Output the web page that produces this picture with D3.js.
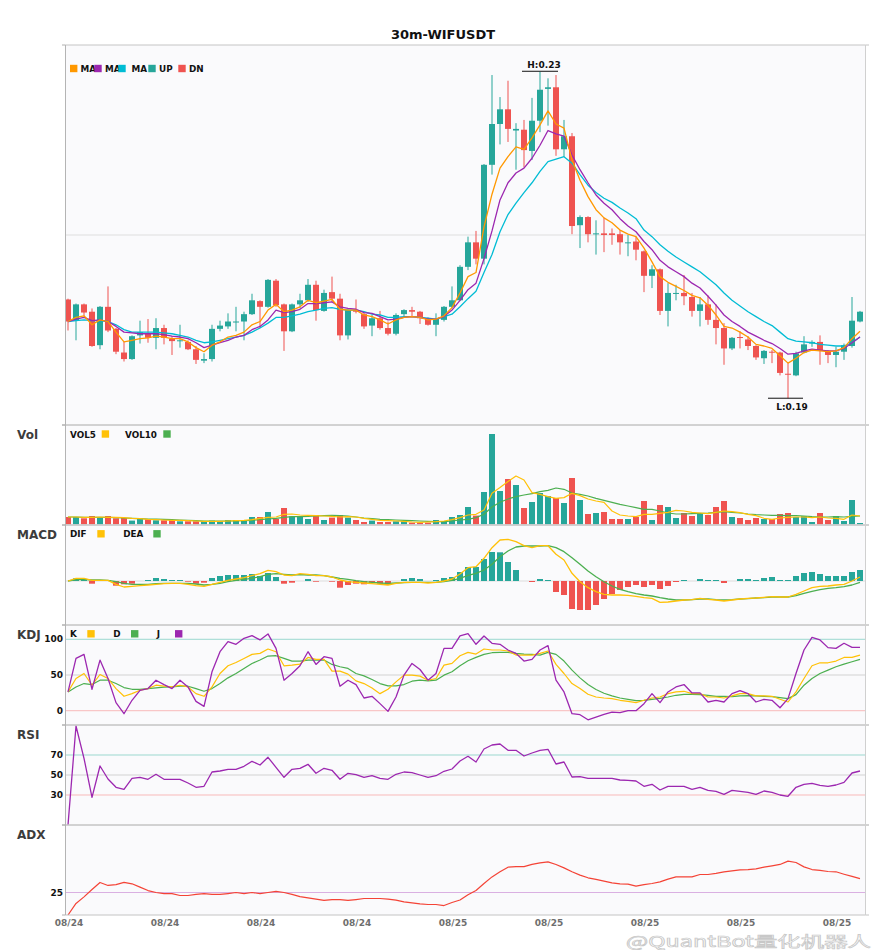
<!DOCTYPE html>
<html>
<head>
<meta charset="utf-8">
<script src="https://cdn.jsdelivr.net/npm/d3@7"></script>
<style>
  body { margin: 0; background: #fff; }
  svg { display: block; font-family: "DejaVu Sans", sans-serif; }
</style>
</head>
<body>
<svg width="885" height="950"></svg>
<script>
// 30m candles
const opens = [
  0.2021, 0.1995, 0.2015, 0.2006, 0.1965, 0.2012, 0.1985, 0.1956, 0.1948, 0.1977,
  0.1979, 0.1974, 0.1986, 0.1973, 0.1970, 0.1969, 0.1960, 0.1946, 0.1948, 0.1985,
  0.1988, 0.1993, 0.1994, 0.2003, 0.2019, 0.2012, 0.2044, 0.2015, 0.1982, 0.2015,
  0.2020, 0.2039, 0.2007, 0.2030, 0.2022, 0.1977, 0.2008, 0.2003, 0.1989, 0.1998,
  0.1986, 0.1979, 0.2003, 0.2008, 0.2006, 0.1997, 0.1990, 0.1996, 0.2012, 0.2020,
  0.2061, 0.2091, 0.2071, 0.2186, 0.2236, 0.2254, 0.2228, 0.2229, 0.2203, 0.2240,
  0.2279, 0.2281, 0.2205, 0.2221, 0.2112, 0.2122, 0.2101, 0.2102, 0.2102, 0.2101,
  0.2090, 0.2092, 0.2080, 0.2050, 0.2058, 0.2007, 0.2028, 0.2029, 0.2024, 0.2007,
  0.2015, 0.1996, 0.1986, 0.1961, 0.1975, 0.1972, 0.1964, 0.1949, 0.1957, 0.1956,
  0.1930, 0.1928, 0.1956, 0.1967, 0.1969, 0.1957, 0.1953, 0.1957, 0.1964, 0.1994
]
const highs = [
  0.2022, 0.2016, 0.2016, 0.2010, 0.2013, 0.2037, 0.1986, 0.1969, 0.1977, 0.1995,
  0.1997, 0.1998, 0.1990, 0.1976, 0.1990, 0.1971, 0.1964, 0.1955, 0.1990, 0.1995,
  0.2004, 0.2012, 0.2006, 0.2028, 0.2020, 0.2046, 0.2046, 0.2016, 0.2016, 0.2028,
  0.2046, 0.2044, 0.2033, 0.2049, 0.2028, 0.2009, 0.2021, 0.2005, 0.2002, 0.2007,
  0.1994, 0.2004, 0.2009, 0.2012, 0.2007, 0.1999, 0.2004, 0.2013, 0.2037, 0.2063,
  0.2098, 0.2105, 0.2187, 0.2296, 0.2269, 0.2289, 0.2237, 0.2241, 0.2268, 0.2300,
  0.2292, 0.2296, 0.2241, 0.2225, 0.2124, 0.2123, 0.2118, 0.2121, 0.2108, 0.2106,
  0.2100, 0.2098, 0.2081, 0.2063, 0.2059, 0.2041, 0.2039, 0.2051, 0.2029, 0.2024,
  0.2026, 0.2015, 0.1992, 0.1975, 0.1982, 0.1976, 0.1965, 0.1959, 0.1959, 0.1957,
  0.1943, 0.1957, 0.1976, 0.1971, 0.1977, 0.1959, 0.1963, 0.1967, 0.2024, 0.2007
]
const lows = [
  0.1983, 0.1971, 0.2001, 0.1963, 0.1960, 0.1981, 0.1954, 0.1945, 0.1947, 0.1967,
  0.1968, 0.1960, 0.1966, 0.1953, 0.1962, 0.1959, 0.1942, 0.1943, 0.1945, 0.1982,
  0.1985, 0.1982, 0.1971, 0.2002, 0.1986, 0.2011, 0.2012, 0.1958, 0.1981, 0.2010,
  0.2018, 0.1995, 0.2006, 0.2018, 0.1971, 0.1972, 0.2004, 0.1985, 0.1976, 0.1984,
  0.1977, 0.1977, 0.2000, 0.2000, 0.1991, 0.1989, 0.1976, 0.1994, 0.2010, 0.2019,
  0.2057, 0.2064, 0.2064, 0.2174, 0.2211, 0.2214, 0.2180, 0.2183, 0.2192, 0.2226,
  0.2234, 0.2197, 0.2196, 0.2101, 0.2084, 0.2091, 0.2076, 0.2079, 0.2088, 0.2076,
  0.2074, 0.2069, 0.2030, 0.2035, 0.2002, 0.1988, 0.2020, 0.2014, 0.2000, 0.1988,
  0.1990, 0.1966, 0.1941, 0.1959, 0.1961, 0.1959, 0.1947, 0.1942, 0.1943, 0.1928,
  0.1900, 0.1927, 0.1955, 0.1963, 0.1941, 0.1943, 0.1938, 0.1947, 0.1962, 0.1993
]
const closes = [
  0.1994, 0.2015, 0.2005, 0.1964, 0.2012, 0.1983, 0.1957, 0.1948, 0.1976, 0.1981,
  0.1974, 0.1986, 0.1974, 0.1970, 0.1971, 0.1960, 0.1947, 0.1948, 0.1985, 0.1989,
  0.1994, 0.1994, 0.2003, 0.2020, 0.2012, 0.2045, 0.2014, 0.1982, 0.2015, 0.2020,
  0.2039, 0.2008, 0.2029, 0.2022, 0.1977, 0.2008, 0.2006, 0.1988, 0.1998, 0.1986,
  0.1979, 0.2002, 0.2008, 0.2006, 0.1998, 0.1990, 0.1997, 0.2012, 0.2020, 0.2061,
  0.2091, 0.2071, 0.2186, 0.2236, 0.2254, 0.2230, 0.2230, 0.2204, 0.2240, 0.2278,
  0.2281, 0.2205, 0.2221, 0.2111, 0.2122, 0.2101, 0.2102, 0.2100, 0.2100, 0.2091,
  0.2091, 0.2082, 0.2050, 0.2058, 0.2007, 0.2029, 0.2029, 0.2025, 0.2007, 0.2015,
  0.1996, 0.1986, 0.1961, 0.1974, 0.1974, 0.1964, 0.1950, 0.1958, 0.1956, 0.1931,
  0.1929, 0.1955, 0.1966, 0.1969, 0.1958, 0.1953, 0.1957, 0.1965, 0.1995, 0.2006
]
// moving averages drawn on the price panel
const maFast = [
  0.1994, 0.1999, 0.2001, 0.1990, 0.1996, 0.1994, 0.1981, 0.1969, 0.1971, 0.1973,
  0.1974, 0.1976, 0.1975, 0.1973, 0.1973, 0.1969, 0.1962, 0.1957, 0.1965, 0.1969,
  0.1975, 0.1977, 0.1981, 0.1990, 0.1994, 0.2008, 0.2015, 0.2006, 0.2008, 0.2012,
  0.2020, 0.2017, 0.2019, 0.2021, 0.2009, 0.2008, 0.2008, 0.2002, 0.2000, 0.1996,
  0.1991, 0.1996, 0.1999, 0.2000, 0.1999, 0.1996, 0.1997, 0.2001, 0.2011, 0.2029,
  0.2049, 0.2054, 0.2110, 0.2150, 0.2182, 0.2196, 0.2208, 0.2205, 0.2219, 0.2235,
  0.2252, 0.2236, 0.2231, 0.2192, 0.2167, 0.2147, 0.2131, 0.2121, 0.2115, 0.2106,
  0.2101, 0.2098, 0.2084, 0.2067, 0.2049, 0.2042, 0.2037, 0.2032, 0.2026, 0.2023,
  0.2014, 0.2002, 0.1988, 0.1986, 0.1981, 0.1975, 0.1966, 0.1964, 0.1961, 0.1952,
  0.1943, 0.1949, 0.1956, 0.1959, 0.1958, 0.1957, 0.1958, 0.1962, 0.1973, 0.1982
]
const maMid = [
  0.1994, 0.1997, 0.1999, 0.1995, 0.1996, 0.1994, 0.1988, 0.1981, 0.1980, 0.1979,
  0.1979, 0.1979, 0.1978, 0.1976, 0.1975, 0.1973, 0.1968, 0.1962, 0.1965, 0.1968,
  0.1971, 0.1975, 0.1977, 0.1984, 0.1988, 0.1996, 0.2008, 0.2005, 0.2006, 0.2009,
  0.2016, 0.2016, 0.2017, 0.2018, 0.2012, 0.2010, 0.2009, 0.2005, 0.2004, 0.2000,
  0.1996, 0.1997, 0.1999, 0.2000, 0.1999, 0.1997, 0.1997, 0.2000, 0.2008, 0.2020,
  0.2033, 0.2041, 0.2071, 0.2105, 0.2143, 0.2164, 0.2176, 0.2182, 0.2194, 0.2210,
  0.2228, 0.2224, 0.2221, 0.2198, 0.2180, 0.2164, 0.2149, 0.2139, 0.2131, 0.2120,
  0.2111, 0.2104, 0.2092, 0.2082, 0.2069, 0.2061, 0.2055, 0.2049, 0.2041, 0.2035,
  0.2025, 0.2014, 0.2002, 0.1994, 0.1988, 0.1981, 0.1976, 0.1971, 0.1967, 0.1961,
  0.1954, 0.1955, 0.1958, 0.1960, 0.1959, 0.1958, 0.1958, 0.1961, 0.1968, 0.1975
]
const maSlow = [
  0.1994, 0.1995, 0.1996, 0.1995, 0.1995, 0.1994, 0.1990, 0.1984, 0.1981, 0.1981,
  0.1981, 0.1981, 0.1980, 0.1979, 0.1977, 0.1975, 0.1971, 0.1968, 0.1969, 0.1971,
  0.1973, 0.1975, 0.1977, 0.1981, 0.1986, 0.1992, 0.1999, 0.1999, 0.2001, 0.2003,
  0.2006, 0.2008, 0.2010, 0.2011, 0.2009, 0.2008, 0.2008, 0.2006, 0.2003, 0.2002,
  0.1999, 0.1999, 0.2000, 0.2000, 0.1999, 0.1998, 0.1997, 0.2000, 0.2003, 0.2012,
  0.2022, 0.2031, 0.2054, 0.2076, 0.2104, 0.2125, 0.2139, 0.2152, 0.2164, 0.2178,
  0.2190, 0.2193, 0.2196, 0.2188, 0.2174, 0.2161, 0.2152, 0.2145, 0.2140, 0.2133,
  0.2127, 0.2120, 0.2106, 0.2098, 0.2088, 0.2080, 0.2073, 0.2067, 0.2061, 0.2055,
  0.2047, 0.2039, 0.2029, 0.2020, 0.2013, 0.2006, 0.2000, 0.1994, 0.1989, 0.1981,
  0.1973, 0.1970, 0.1969, 0.1968, 0.1966, 0.1965, 0.1964, 0.1964, 0.1968, 0.1975
]
// volume (millions, scale is not shown on the chart)
const volumes = [
  0.73, 0.73, 0.60, 0.83, 0.73, 0.83, 0.60, 0.63, 0.37, 0.57,
  0.50, 0.40, 0.40, 0.40, 0.30, 0.30, 0.30, 0.30, 0.37, 0.30,
  0.43, 0.43, 0.43, 0.73, 0.73, 1.23, 0.53, 1.63, 0.80, 0.80,
  0.53, 0.93, 0.43, 0.67, 0.93, 0.67, 0.43, 0.23, 0.37, 0.23,
  0.23, 0.30, 0.30, 0.17, 0.17, 0.17, 0.43, 0.30, 0.73, 0.93,
  1.73, 0.87, 3.23, 9.03, 3.33, 4.53, 3.93, 1.63, 2.23, 3.13,
  2.83, 2.63, 2.13, 4.63, 2.43, 1.03, 1.13, 1.23, 0.53, 0.53,
  0.53, 0.73, 2.33, 0.43, 1.93, 1.73, 0.63, 1.13, 0.83, 1.03,
  0.93, 1.73, 2.33, 0.73, 0.63, 0.43, 0.63, 0.53, 0.53, 1.03,
  1.13, 0.73, 0.83, 0.23, 1.13, 0.43, 0.83, 0.33, 2.43, 0.13
]
const vol5 = [
  0.73, 0.73, 0.70, 0.70, 0.73, 0.70, 0.70, 0.67, 0.60, 0.57,
  0.50, 0.47, 0.43, 0.40, 0.40, 0.37, 0.33, 0.30, 0.30, 0.30,
  0.33, 0.37, 0.40, 0.47, 0.60, 0.70, 0.73, 1.00, 1.03, 0.93,
  0.90, 0.87, 0.83, 0.80, 0.73, 0.77, 0.73, 0.60, 0.50, 0.40,
  0.37, 0.33, 0.30, 0.23, 0.20, 0.23, 0.27, 0.33, 0.47, 0.67,
  0.93, 1.00, 1.43, 3.10, 3.67, 4.27, 4.83, 4.43, 3.17, 3.00,
  2.77, 2.60, 2.67, 3.10, 2.87, 2.53, 2.33, 2.20, 1.33, 0.93,
  0.83, 0.77, 1.00, 1.00, 1.10, 1.20, 1.40, 1.33, 1.20, 1.13,
  1.07, 1.20, 1.33, 1.27, 1.17, 1.00, 0.87, 0.60, 0.50, 0.63,
  0.70, 0.73, 0.73, 0.67, 0.73, 0.63, 0.60, 0.50, 0.93, 0.83
]
const vol10 = [
  0.73, 0.73, 0.70, 0.70, 0.70, 0.70, 0.67, 0.63, 0.60, 0.57,
  0.53, 0.53, 0.50, 0.47, 0.43, 0.40, 0.37, 0.33, 0.33, 0.33,
  0.33, 0.33, 0.37, 0.40, 0.47, 0.53, 0.60, 0.70, 0.77, 0.77,
  0.80, 0.83, 0.87, 0.90, 0.87, 0.83, 0.73, 0.63, 0.57, 0.50,
  0.47, 0.43, 0.40, 0.37, 0.33, 0.30, 0.27, 0.27, 0.33, 0.43,
  0.50, 0.67, 1.00, 1.73, 2.20, 2.53, 2.77, 2.93, 3.07, 3.27,
  3.40, 3.63, 3.50, 3.13, 3.00, 2.83, 2.60, 2.40, 2.20, 2.00,
  1.83, 1.67, 1.50, 1.50, 1.33, 1.13, 1.03, 1.03, 1.07, 1.10,
  1.13, 1.20, 1.27, 1.20, 1.13, 1.03, 0.97, 0.93, 0.90, 0.90,
  0.87, 0.87, 0.83, 0.77, 0.73, 0.73, 0.77, 0.73, 0.80, 0.83
]
// MACD
const dif = [
  0, 0.00027, 0.00027, 0.00007, 0.00007, 0.00007, -0.00033, -0.00060, -0.00053, -0.00047,
  -0.00040, -0.00033, -0.00027, -0.00023, -0.00023, -0.00033, -0.00047, -0.00053, -0.00033, -0.00013,
  0.00007, 0.00020, 0.00033, 0.00053, 0.00073, 0.00107, 0.00093, 0.00060, 0.00053, 0.00073,
  0.00067, 0.00053, 0.00053, 0.00040, 0.00010, -0.00007, -0.00013, -0.00020, -0.00027, -0.00033,
  -0.00040, -0.00023, -0.00013, -0.00013, -0.00013, -0.00020, -0.00013, 0, 0.00020, 0.00070,
  0.00133, 0.00143, 0.00227, 0.00333, 0.00410, 0.00417, 0.00393, 0.00353, 0.00333, 0.00353,
  0.00353, 0.00267, 0.00210, 0.00077, -0.00007, -0.00067, -0.00107, -0.00133, -0.00140, -0.00140,
  -0.00143, -0.00153, -0.00167, -0.00173, -0.00213, -0.00210, -0.00200, -0.00190, -0.00187, -0.00173,
  -0.00183, -0.00190, -0.00200, -0.00190, -0.00180, -0.00173, -0.00170, -0.00163, -0.00157, -0.00160,
  -0.00160, -0.00133, -0.00100, -0.00067, -0.00053, -0.00050, -0.00040, -0.00033, 0, 0.00040
]
const dea = [
  0, 0.00013, 0.00017, 0.00010, 0.00010, 0.00007, -0.00007, -0.00023, -0.00033, -0.00033,
  -0.00033, -0.00027, -0.00023, -0.00023, -0.00023, -0.00023, -0.00030, -0.00040, -0.00033, -0.00023,
  -0.00007, 0.00007, 0.00017, 0.00027, 0.00043, 0.00067, 0.00073, 0.00067, 0.00060, 0.00063,
  0.00060, 0.00060, 0.00053, 0.00040, 0.00027, 0.00017, 0.00003, -0.00007, -0.00013, -0.00020,
  -0.00023, -0.00020, -0.00017, -0.00013, -0.00013, -0.00013, -0.00013, -0.00007, 0.00007, 0.00027,
  0.00057, 0.00077, 0.00110, 0.00167, 0.00243, 0.00300, 0.00340, 0.00350, 0.00350, 0.00350,
  0.00353, 0.00333, 0.00293, 0.00233, 0.00167, 0.00100, 0.00043, -0.00007, -0.00050, -0.00083,
  -0.00107, -0.00127, -0.00140, -0.00150, -0.00167, -0.00180, -0.00190, -0.00190, -0.00187, -0.00180,
  -0.00180, -0.00187, -0.00190, -0.00187, -0.00180, -0.00177, -0.00170, -0.00167, -0.00160, -0.00160,
  -0.00160, -0.00147, -0.00123, -0.00103, -0.00087, -0.00073, -0.00067, -0.00057, -0.00040, -0.00013
]
const macdHist = [
  0, 0.00027, 0.00020, -0.00027, 0.00010, 0.00010, -0.00047, -0.00033, -0.00027, 0,
  0.00010, 0.00030, 0.00020, 0.00010, 0.00010, -0.00007, -0.00027, -0.00017, 0.00030, 0.00050,
  0.00060, 0.00060, 0.00060, 0.00070, 0.00050, 0.00080, 0.00040, -0.00027, -0.00017, 0,
  0.00020, -0.00007, 0, -0.00007, -0.00067, -0.00040, -0.00027, -0.00033, -0.00017, -0.00027,
  -0.00040, 0, 0.00020, 0.00030, 0.00020, 0, 0.00010, 0.00030, 0.00040, 0.00090,
  0.00140, 0.00140, 0.00220, 0.00290, 0.00287, 0.00190, 0.00110, 0, -0.00010, 0.00020,
  0.00010, -0.00110, -0.00140, -0.00280, -0.00290, -0.00290, -0.00240, -0.00180, -0.00130, -0.00090,
  -0.00060, -0.00040, -0.00060, -0.00040, -0.00080, -0.00050, -0.00010, 0.00010, 0, 0.00020,
  0.00010, 0.00010, -0.00020, 0, 0.00020, 0.00020, 0.00010, 0.00030, 0.00040, 0.00010,
  0.00010, 0.00050, 0.00080, 0.00090, 0.00070, 0.00050, 0.00050, 0.00050, 0.00090, 0.00110
]
// KDJ
const kLine = [
  26.3, 45.1, 52.1, 35.7, 50.7, 45.1, 31.0, 20.2, 23.9, 28.6,
  31.0, 35.7, 34.3, 33.3, 35.7, 33.3, 23.9, 20.2, 33.3, 52.1,
  62.9, 67.6, 73.2, 78.9, 80.3, 86.4, 82.6, 62.9, 63.8, 65.3,
  74.6, 71.8, 71.8, 55.4, 55.4, 51.2, 41.8, 38.0, 31.9, 23.9,
  30.0, 40.4, 49.8, 49.8, 48.4, 42.7, 45.1, 63.8, 66.2, 77.0,
  81.7, 79.3, 86.4, 85.0, 85.0, 83.6, 77.9, 77.9, 77.9, 80.3,
  83.6, 64.8, 52.1, 38.0, 31.0, 23.0, 19.2, 17.8, 16.9, 14.6,
  13.1, 11.3, 14.6, 17.8, 19.2, 23.9, 26.3, 27.2, 23.9, 23.9,
  19.2, 19.2, 17.8, 20.7, 23.9, 23.9, 20.7, 20.7, 20.2, 16.0,
  12.2, 26.3, 45.1, 62.9, 67.1, 67.1, 69.5, 74.6, 74.6, 77.9
]
const dLine = [
  26.3, 33.3, 38.0, 36.6, 42.7, 42.7, 38.0, 32.4, 30.0, 30.0,
  31.0, 31.9, 32.9, 33.3, 34.3, 34.3, 31.0, 27.2, 31.0, 38.0,
  46.0, 52.1, 59.2, 66.2, 70.9, 76.5, 77.0, 73.2, 69.5, 69.5,
  70.9, 70.9, 70.9, 64.8, 61.5, 59.2, 52.1, 48.8, 43.7, 38.0,
  34.7, 34.7, 36.6, 41.3, 42.7, 41.8, 42.7, 49.8, 54.5, 62.9,
  70.0, 74.6, 78.9, 81.2, 81.7, 81.7, 80.3, 79.3, 78.9, 77.9,
  81.7, 78.9, 69.5, 56.8, 46.0, 36.6, 29.6, 24.4, 20.7, 17.8,
  16.0, 14.1, 14.6, 16.0, 17.4, 19.2, 21.6, 23.0, 23.0, 22.5,
  21.6, 20.2, 20.2, 19.7, 20.7, 21.1, 20.7, 20.2, 19.7, 18.3,
  16.9, 22.5, 35.7, 45.1, 52.1, 56.8, 61.5, 65.3, 68.5, 71.8
]
const jLine = [
  26.3, 73.2, 78.9, 30.0, 70.9, 45.1, 11.3, -4.2, 14.6, 28.6,
  31.0, 42.7, 36.6, 31.0, 42.7, 33.3, 13.1, 6.1, 54.5, 82.6,
  96.7, 93.0, 101.4, 105.2, 99.1, 107.5, 87.3, 42.7, 52.1, 62.9,
  82.6, 64.8, 75.6, 73.2, 34.3, 42.7, 36.6, 17.8, 20.2, 9.9,
  -0.9, 19.2, 49.8, 66.2, 57.7, 42.7, 52.1, 87.3, 87.3, 104.7,
  108.0, 93.0, 104.7, 94.4, 93.0, 85.0, 80.3, 69.5, 71.8, 85.0,
  91.1, 42.7, 26.3, -4.2, -5.6, -12.7, -8.9, -5.2, -1.9, -2.8,
  0.0, 0.0, 9.9, 23.9, 11.3, 26.3, 33.3, 36.6, 24.9, 24.9,
  12.2, 14.6, 12.2, 23.9, 28.2, 23.9, 12.2, 16.0, 14.6, 4.2,
  16.9, 52.1, 85.0, 102.8, 99.1, 88.3, 87.3, 94.4, 88.7, 88.7
]
const rsi = [
  0, 99, 66.7, 27.7, 59.0, 46.0, 37.7, 35.7, 46.7, 47.7,
  45.7, 50.7, 45.7, 45.7, 45.7, 42.0, 37.7, 38.7, 53.0, 54.0,
  55.7, 55.7, 58.7, 63.7, 60.0, 67.7, 57.7, 47.7, 55.7, 56.7,
  60.7, 51.7, 56.7, 54.7, 45.7, 51.7, 50.3, 47.7, 49.3, 46.7,
  45.7, 50.7, 53.0, 52.3, 50.0, 47.7, 49.3, 53.7, 56.0, 64.0,
  68.7, 63.0, 76.0, 80.0, 81.0, 74.7, 74.7, 69.0, 72.0, 74.7,
  75.7, 61.0, 63.0, 48.0, 48.3, 46.7, 46.7, 46.7, 46.7, 45.0,
  44.7, 44.0, 38.7, 40.7, 35.0, 38.7, 38.7, 38.7, 35.7, 37.7,
  34.7, 33.7, 30.7, 34.7, 33.7, 32.7, 30.7, 34.0, 32.7, 30.0,
  28.7, 37.7, 40.7, 41.7, 39.7, 38.7, 40.0, 42.7, 52.0, 54.0
]
const adx = [
  10.0, 17.7, 22.1, 27.0, 31.7, 29.7, 30.3, 31.7, 30.8, 28.6,
  26.3, 25.0, 24.3, 24.3, 23.0, 23.0, 23.7, 24.3, 23.7, 23.7,
  24.3, 25.0, 24.3, 25.0, 24.3, 25.0, 25.7, 25.0, 23.7, 22.3,
  21.4, 20.6, 19.7, 20.3, 20.3, 19.7, 20.3, 21.0, 21.0, 21.0,
  20.6, 19.9, 18.8, 18.1, 17.4, 17.0, 17.0, 16.3, 18.3, 20.0,
  23.5, 26.3, 31.0, 35.4, 38.8, 41.9, 42.3, 42.3, 43.7, 44.8,
  45.4, 43.7, 41.4, 38.8, 36.6, 34.8, 33.7, 32.6, 31.4, 30.8,
  30.6, 29.2, 30.3, 31.0, 32.1, 33.9, 35.4, 35.4, 35.4, 37.0,
  37.0, 37.7, 38.8, 39.4, 40.1, 40.3, 40.8, 41.9, 42.8, 43.7,
  45.9, 45.0, 42.1, 40.3, 39.7, 39.0, 38.8, 37.2, 35.7, 34.3
]
const tickLabels = ["08/24", "08/24", "08/24", "08/24", "08/25", "08/25", "08/25", "08/25", "08/25"]

const upColor = "#26a69a"
const downColor = "#ef5350"
const left = 66, right = 865

let svg = d3.select("svg")

let panels = {
  main: { top: 45, bottom: 425 },
  vol:  { top: 425, bottom: 525, label: "Vol" },
  macd: { top: 525, bottom: 625, label: "MACD" },
  kdj:  { top: 625, bottom: 725, label: "KDJ" },
  rsi:  { top: 725, bottom: 825, label: "RSI" },
  adx:  { top: 825, bottom: 915, label: "ADX" }
}

let x = d3.scalePoint().domain(d3.range(closes.length)).range([68, 860])
let barW = x.step() * 0.75
let isUp = i => closes[i] >= opens[i]

// backgrounds + clip paths
let defs = svg.append("defs")
Object.entries(panels).forEach(([name, p]) => {
  svg.append("rect")
     .attr("x", left).attr("y", p.top)
     .attr("width", right - left).attr("height", p.bottom - p.top)
     .attr("fill", "#fafafc")
  defs.append("clipPath").attr("id", "clip-" + name)
      .append("rect")
      .attr("x", left).attr("y", p.top)
      .attr("width", right - left).attr("height", p.bottom - p.top)
  p.g = svg.append("g").attr("clip-path", "url(#clip-" + name + ")")
})

svg.append("text")
   .text("30m-WIFUSDT")
   .attr("x", 443).attr("y", 39)
   .attr("text-anchor", "middle")
   .style("font-size", "13px").style("font-weight", "bold")
   .attr("fill", "#111")

function drawLine(g, values, y, color, width) {
  g.append("path")
   .datum(values)
   .attr("fill", "none")
   .attr("stroke", color)
   .attr("stroke-width", width || 1.2)
   .attr("stroke-linejoin", "round")
   .attr("d", d3.line().x((d, i) => x(i)).y(d => y(d)))
}

function guide(g, y, value, color) {
  g.append("line")
   .attr("x1", left).attr("x2", right)
   .attr("y1", y(value)).attr("y2", y(value))
   .attr("stroke", color).attr("stroke-width", 1)
}

function axisLabel(y, value) {
  svg.append("text")
     .text(value)
     .attr("x", 63).attr("y", y(value) + 3)
     .attr("text-anchor", "end")
     .style("font-size", "9px").style("font-weight", "bold")
     .attr("fill", "#111")
}

function legend(top, items) {
  items.forEach(it => {
    svg.append("text").text(it.label)
       .attr("x", it.tx).attr("y", top)
       .style("font-size", "8.8px").style("font-weight", "bold")
       .attr("fill", "#111")
  })
  // squares go on top of the labels, as in the original
  items.forEach(it => {
    svg.append("rect")
       .attr("x", it.sx).attr("y", top - 7.2)
       .attr("width", 7.4).attr("height", 7.4)
       .attr("fill", it.color)
  })
}

// ---- price panel
let yPrice = d3.scaleLinear().domain([0.18672, 0.23328]).range([425, 45])
let gMain = panels.main.g
guide(gMain, yPrice, 0.21, "#dedede")

let candles = gMain.selectAll("g.candle")
                   .data(closes)
                   .enter()
                   .append("g")
                   .attr("class", "candle")

candles.append("line")
       .attr("x1", (d, i) => x(i)).attr("x2", (d, i) => x(i))
       .attr("y1", (d, i) => yPrice(highs[i]))
       .attr("y2", (d, i) => yPrice(lows[i]))
       .attr("stroke", (d, i) => isUp(i) ? upColor : downColor)
       .attr("stroke-width", 1)

candles.append("rect")
       .attr("x", (d, i) => x(i) - barW / 2)
       .attr("width", barW)
       .attr("y", (d, i) => yPrice(Math.max(opens[i], closes[i])))
       .attr("height", (d, i) => Math.max(1, Math.abs(yPrice(opens[i]) - yPrice(closes[i]))))
       .attr("fill", (d, i) => isUp(i) ? upColor : downColor)

drawLine(gMain, maSlow, yPrice, "#00bcd4", 1.3)
drawLine(gMain, maMid, yPrice, "#9c27b0", 1.3)
drawLine(gMain, maFast, yPrice, "#ff9800", 1.3)

// high / low markers
let hiIdx = d3.maxIndex(highs)
let loIdx = d3.minIndex(lows)
svg.append("line")
   .attr("x1", x(hiIdx) - 18).attr("x2", x(hiIdx) + 18)
   .attr("y1", yPrice(highs[hiIdx]) - 0.5).attr("y2", yPrice(highs[hiIdx]) - 0.5)
   .attr("stroke", "#111").attr("stroke-width", 1)
svg.append("text")
   .text("H:" + d3.format(".2f")(highs[hiIdx]))
   .attr("x", x(hiIdx) + 4).attr("y", yPrice(highs[hiIdx]) - 4)
   .attr("text-anchor", "middle")
   .style("font-size", "9px").style("font-weight", "bold").attr("fill", "#111")
svg.append("line")
   .attr("x1", x(loIdx) - 20).attr("x2", x(loIdx) + 15)
   .attr("y1", yPrice(lows[loIdx])).attr("y2", yPrice(lows[loIdx]))
   .attr("stroke", "#111").attr("stroke-width", 1)
svg.append("text")
   .text("L:" + d3.format(".2f")(lows[loIdx]))
   .attr("x", x(loIdx) + 4).attr("y", yPrice(lows[loIdx]) + 12)
   .attr("text-anchor", "middle")
   .style("font-size", "9px").style("font-weight", "bold").attr("fill", "#111")

legend(72, [
  { label: "MA", color: "#ff9800", sx: 70, tx: 80.5 },
  { label: "MA", color: "#9c27b0", sx: 94.3, tx: 105 },
  { label: "MA", color: "#00bcd4", sx: 118.3, tx: 131.5 },
  { label: "UP", color: upColor, sx: 148.3, tx: 159 },
  { label: "DN", color: downColor, sx: 178.3, tx: 189 }
])

// ---- volume
let yVol = d3.scaleLinear().domain([0, 10]).range([524.3, 424.3])
let gVol = panels.vol.g
gVol.selectAll("rect.vol")
    .data(volumes)
    .enter()
    .append("rect")
    .attr("class", "vol")
    .attr("x", (d, i) => x(i) - barW / 2)
    .attr("width", barW)
    .attr("y", d => yVol(d))
    .attr("height", d => yVol(0) - yVol(d))
    .attr("fill", (d, i) => isUp(i) ? upColor : downColor)
drawLine(gVol, vol10, yVol, "#4caf50", 1.2)
drawLine(gVol, vol5, yVol, "#ffc107", 1.2)
legend(437.5, [
  { label: "VOL5", color: "#ffc107", sx: 101.7, tx: 70 },
  { label: "VOL10", color: "#4caf50", sx: 163.3, tx: 125 }
])

// ---- MACD
let yMacd = d3.scaleLinear().domain([-0.0044, 0.0056]).range([625, 525])
let gMacd = panels.macd.g
guide(gMacd, yMacd, 0, "#dcdcdc")
gMacd.selectAll("rect.hist")
     .data(macdHist)
     .enter()
     .append("rect")
     .attr("class", "hist")
     .attr("x", (d, i) => x(i) - barW / 2)
     .attr("width", barW)
     .attr("y", d => yMacd(Math.max(0, d)))
     .attr("height", d => Math.abs(yMacd(d) - yMacd(0)))
     .attr("fill", d => d >= 0 ? upColor : downColor)
drawLine(gMacd, dea, yMacd, "#4caf50", 1.3)
drawLine(gMacd, dif, yMacd, "#ffc107", 1.3)
legend(537.3, [
  { label: "DIF", color: "#ffc107", sx: 97.3, tx: 70 },
  { label: "DEA", color: "#4caf50", sx: 153.3, tx: 123.3 }
])

// ---- KDJ
let yKdj = d3.scaleLinear().domain([-20, 120]).range([725, 625])
let gKdj = panels.kdj.g
guide(gKdj, yKdj, 100, "#9bd8cf")
guide(gKdj, yKdj, 50, "#d2d2d2")
guide(gKdj, yKdj, 0, "#f8b9b9")
drawLine(gKdj, dLine, yKdj, "#4caf50", 1.2)
drawLine(gKdj, kLine, yKdj, "#ffc107", 1.2)
drawLine(gKdj, jLine, yKdj, "#9c27b0", 1.3)
;[100, 50, 0].forEach(v => axisLabel(yKdj, v))
legend(637.3, [
  { label: "K", color: "#ffc107", sx: 87.3, tx: 70 },
  { label: "D", color: "#4caf50", sx: 131, tx: 113.3 },
  { label: "J", color: "#9c27b0", sx: 175, tx: 156.7 }
])

// ---- RSI
let yRsi = d3.scaleLinear().domain([0, 100]).range([825, 725])
let gRsi = panels.rsi.g
guide(gRsi, yRsi, 70, "#9bd8cf")
guide(gRsi, yRsi, 50, "#d2d2d2")
guide(gRsi, yRsi, 30, "#f8b9b9")
drawLine(gRsi, rsi, yRsi, "#9c27b0", 1.3)
;[70, 50, 30].forEach(v => axisLabel(yRsi, v))

// ---- ADX
let yAdx = d3.scaleLinear().domain([10, 70]).range([915, 825])
let gAdx = panels.adx.g
guide(gAdx, yAdx, 25, "#dab0e2")
drawLine(gAdx, adx, yAdx, "#f44336", 1.2)
axisLabel(yAdx, 25)

// panel frames
Object.values(panels).forEach(p => {
  ;[p.top, p.bottom].forEach(yy => {
    svg.append("line")
       .attr("x1", left - 0.5).attr("x2", right + 0.5)
       .attr("y1", yy).attr("y2", yy)
       .attr("stroke", "#c4c4c4").attr("stroke-width", 1)
    svg.append("line")
       .attr("x1", left - 4).attr("x2", left - 0.5)
       .attr("y1", yy).attr("y2", yy)
       .attr("stroke", "#b0b0b0")
    svg.append("line")
       .attr("x1", right + 0.5).attr("x2", right + 4)
       .attr("y1", yy).attr("y2", yy)
       .attr("stroke", "#c4c4c4")
  })
  if (p.label) {
    svg.append("text")
       .text(p.label)
       .attr("x", 17).attr("y", p.top + 13.5)
       .style("font-size", "12px").style("font-weight", "bold")
       .attr("fill", "#3c3c3c")
  }
})
svg.append("line")
   .attr("x1", left - 0.5).attr("x2", left - 0.5)
   .attr("y1", 45).attr("y2", 915)
   .attr("stroke", "#b4b4b4")
svg.append("line")
   .attr("x1", right + 0.5).attr("x2", right + 0.5)
   .attr("y1", 45).attr("y2", 915)
   .attr("stroke", "#d0d0d0")

// time labels, one every 12 bars
svg.selectAll("text.tick")
   .data(d3.range(0, closes.length, 12))
   .enter()
   .append("text")
   .attr("class", "tick")
   .text((d, i) => tickLabels[i])
   .attr("x", d => x(d) + 1)
   .attr("y", 926)
   .attr("text-anchor", "middle")
   .style("font-size", "9px").style("font-weight", "bold")
   .attr("fill", "#6e6e6e")

// platform watermark, kept just under the time labels
svg.append("text")
   .text("@QuantBot量化机器人")
   .attr("x", 626).attr("y", 947)
   .attr("textLength", 245).attr("lengthAdjust", "spacingAndGlyphs")
   .style("font-family", "'Noto Sans CJK SC', 'Noto Sans', sans-serif")
   .style("font-size", "15px")
   .attr("fill", "#ffffff").attr("fill-opacity", 0.6)
   .attr("stroke", "#c8c8c8").attr("stroke-width", 0.7)
</script>
</body>
</html>
